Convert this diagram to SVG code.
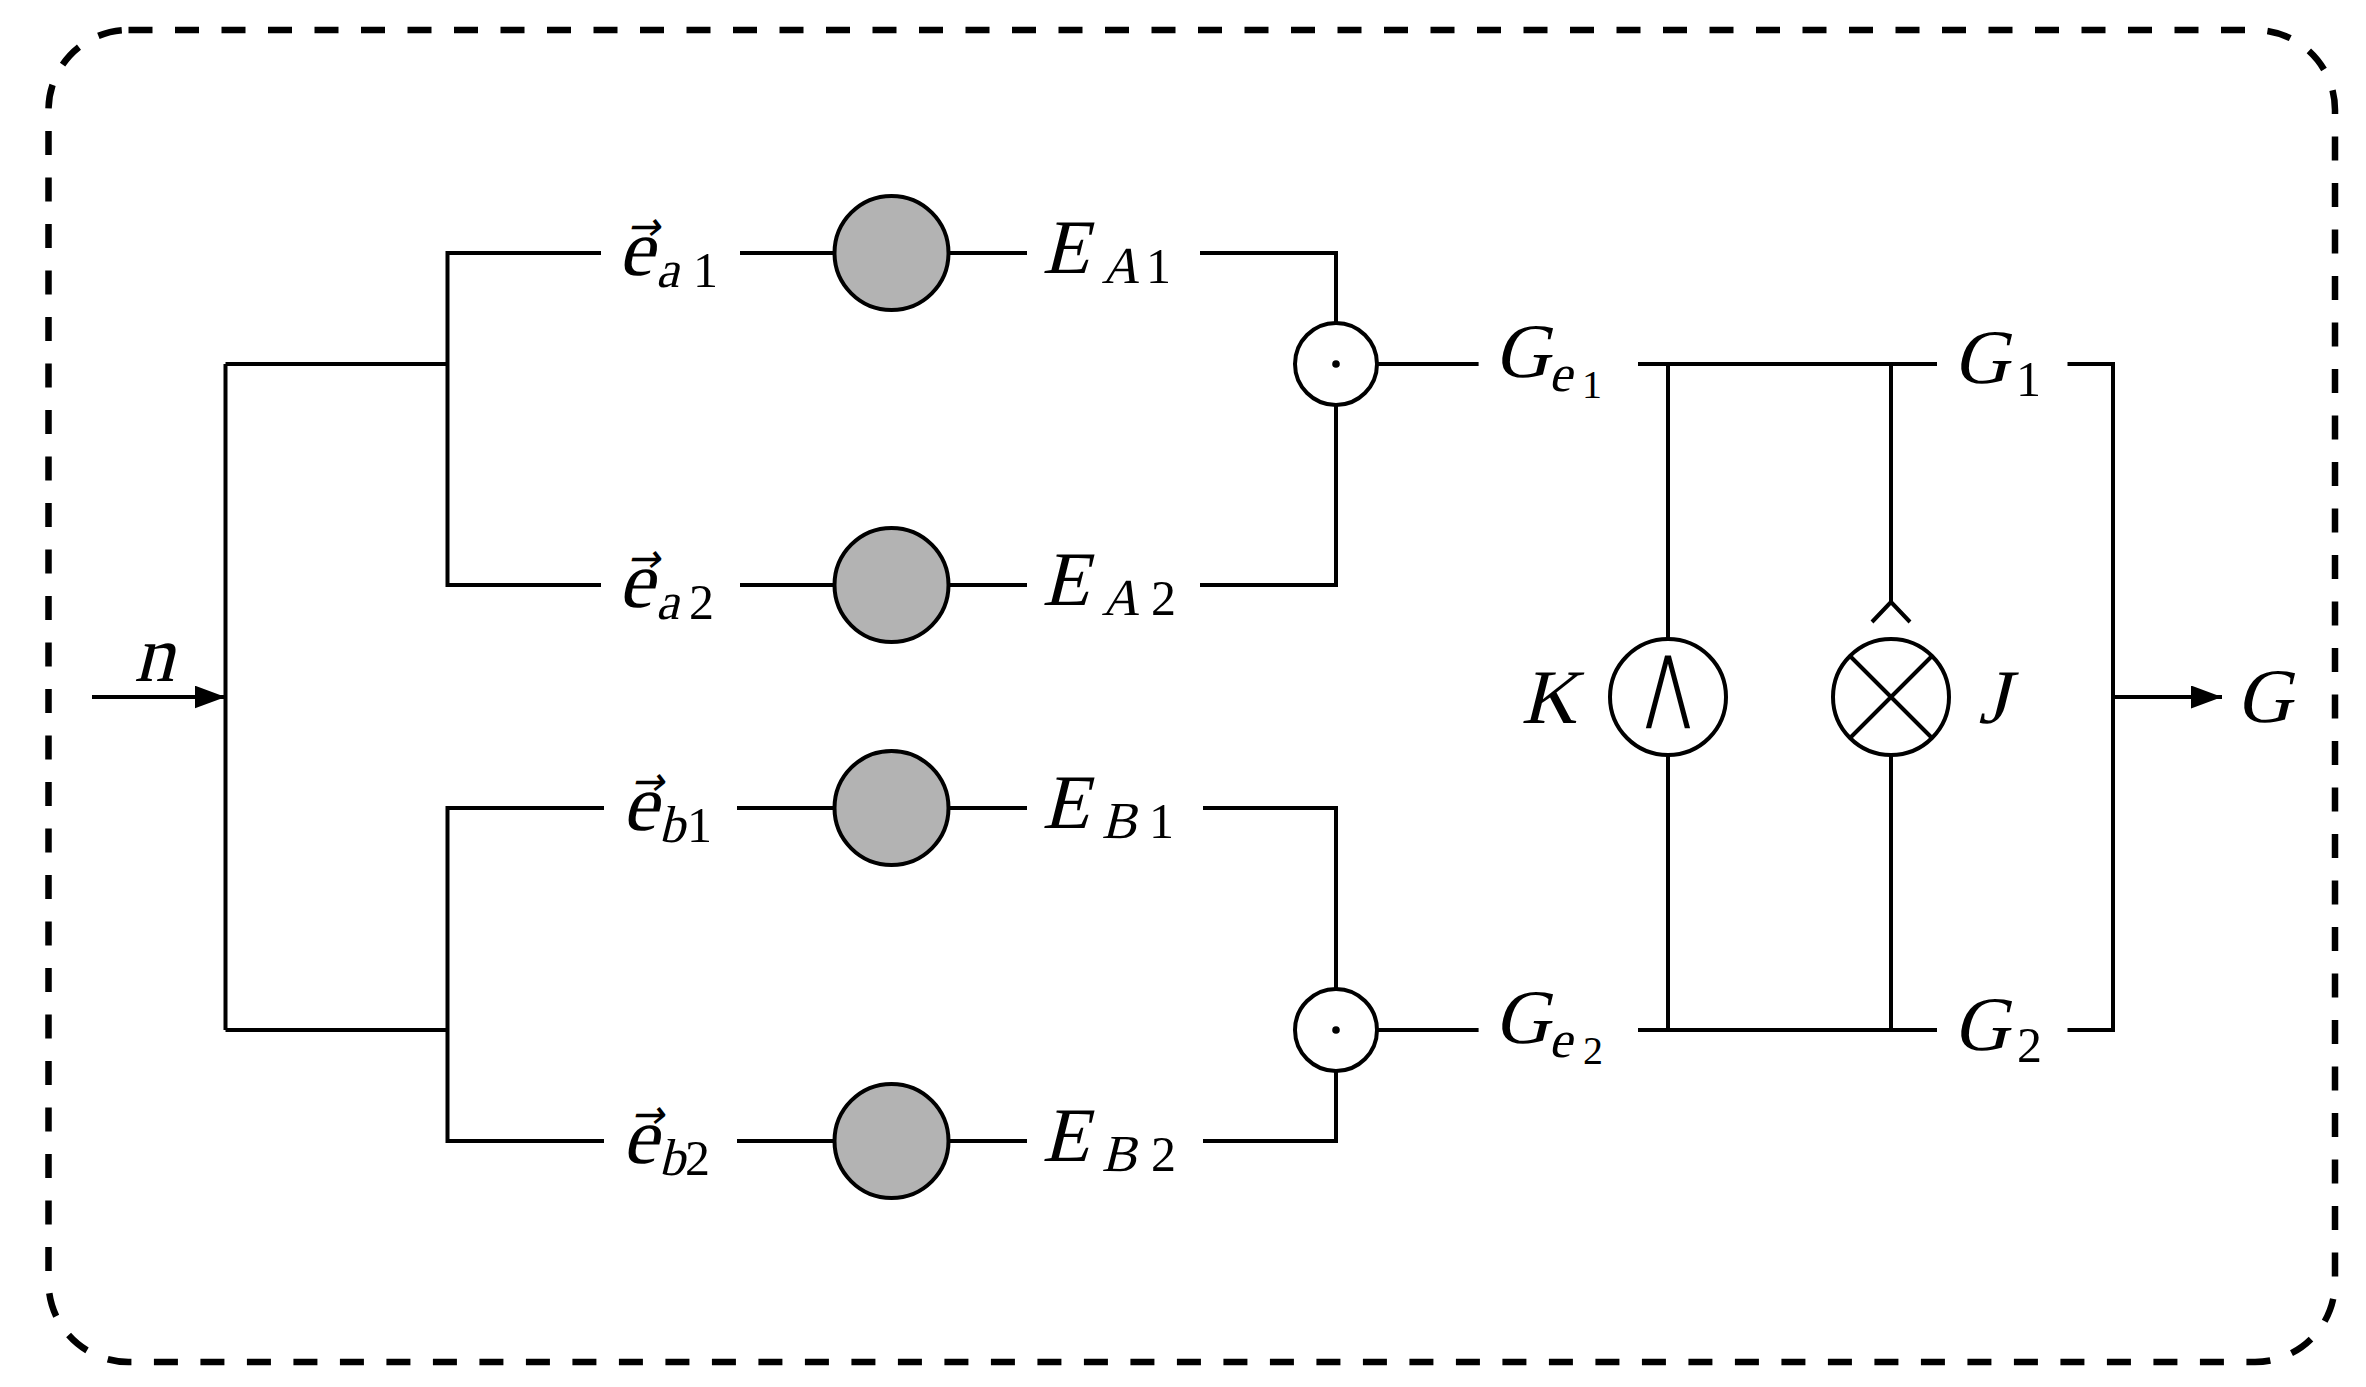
<svg xmlns="http://www.w3.org/2000/svg" width="2366" height="1387" viewBox="0 0 2366 1387">
<style>
.ln{stroke:#000;stroke-width:4;fill:none}
.nd{stroke:#000;stroke-width:4;fill:#fff}
.gr{stroke:#000;stroke-width:4;fill:#b3b3b3}
text{font-family:'Liberation Serif',serif;font-style:normal;fill:#000}
.m{font-size:77px}
.lc{font-size:80px}
.s{font-size:52px}
.d{font-size:50px}
.dd{font-size:40px}
.vec{font-family:'DejaVu Sans',sans-serif;font-size:40px}
.op{font-family:'DejaVu Sans',sans-serif;font-size:80px}
</style>
<defs>
<marker id="ah" markerWidth="31" markerHeight="23" refX="31" refY="11.5" orient="auto" markerUnits="userSpaceOnUse">
<path d="M0,0 L31,11.5 L0,23 Z" fill="#000"/>
</marker>
</defs>
<rect x="48.5" y="30" width="2286.5" height="1332" rx="80" ry="80" fill="none" stroke="#000" stroke-width="6.5" stroke-dasharray="24 22.5"/>
<g id="connectors" class="ln">
<path d="M92,697 H225.5" marker-end="url(#ah)"/>
<path d="M225.5,364 V1030"/>
<path d="M225.5,364 H447.5"/>
<path d="M225.5,1030 H447.5"/>
<path d="M601,253 H447.5 V585 H601"/>
<path d="M604,808 H447.5 V1141 H604"/>
<path d="M740,253 H834.5 M948.5,253 H1027"/>
<path d="M740,585 H834.5 M948.5,585 H1027"/>
<path d="M737,808 H834.5 M948.5,808 H1027"/>
<path d="M737,1141 H834.5 M948.5,1141 H1027"/>
<path d="M1200,253 H1336 V323"/>
<path d="M1200,585 H1336 V405"/>
<path d="M1203,808 H1336 V989"/>
<path d="M1203,1141 H1336 V1071"/>
<path d="M1377,364 H1478.6"/>
<path d="M1377,1030 H1478.6"/>
<path d="M1638,364 H1937"/>
<path d="M1638,1030 H1937"/>
<path d="M1668,364 V638"/>
<path d="M1668,756 V1030"/>
<path d="M1891,364 V602"/>
<path d="M1872,622 L1891,602 L1910,622"/>
<path d="M1891,756 V1030"/>
<path d="M2067.5,364 H2113 V1030 H2067.5"/>
<path d="M2113,697 H2222" marker-end="url(#ah)"/>
</g>
<g id="label-n"><text class="lc" transform="translate(134,681) skewX(-14)">n</text></g>
<g id="node-ea1"><text transform="translate(618,274.5) skewX(-14)"><tspan class="lc" x="0" y="0">e</tspan><tspan class="vec" x="0" y="-34.5">→</tspan><tspan class="s" x="41" y="12.5">a</tspan></text><text class="d" x="693" y="287">1</text></g>
<g id="node-ea2"><text transform="translate(618,606.5) skewX(-14)"><tspan class="lc" x="0" y="0">e</tspan><tspan class="vec" x="0" y="-34.5">→</tspan><tspan class="s" x="41" y="12.5">a</tspan></text><text class="d" x="689" y="619">2</text></g>
<g id="node-eb1"><text transform="translate(622,829.5) skewX(-14)"><tspan class="lc" x="0" y="0">e</tspan><tspan class="vec" x="0" y="-34.5">→</tspan><tspan class="s" x="40" y="12.5">b</tspan></text><text class="d" x="687" y="842">1</text></g>
<g id="node-eb2"><text transform="translate(622,1162.5) skewX(-14)"><tspan class="lc" x="0" y="0">e</tspan><tspan class="vec" x="0" y="-34.5">→</tspan><tspan class="s" x="40" y="12.5">b</tspan></text><text class="d" x="685" y="1175">2</text></g>
<g id="node-ca1"><circle class="gr" cx="891.5" cy="253" r="57"/></g>
<g id="node-ca2"><circle class="gr" cx="891.5" cy="585" r="57"/></g>
<g id="node-cb1"><circle class="gr" cx="891.5" cy="808" r="57"/></g>
<g id="node-cb2"><circle class="gr" cx="891.5" cy="1141" r="57"/></g>
<g id="node-EA1"><text transform="translate(1042,273) skewX(-14)"><tspan class="m" x="0" y="0">E</tspan><tspan class="s" x="62" y="10">A</tspan></text><text class="d" x="1146" y="283">1</text></g>
<g id="node-EA2"><text transform="translate(1042,605) skewX(-14)"><tspan class="m" x="0" y="0">E</tspan><tspan class="s" x="62" y="10">A</tspan></text><text class="d" x="1151" y="615">2</text></g>
<g id="node-EB1"><text transform="translate(1042,828) skewX(-14)"><tspan class="m" x="0" y="0">E</tspan><tspan class="s" x="62" y="10">B</tspan></text><text class="d" x="1149" y="838">1</text></g>
<g id="node-EB2"><text transform="translate(1042,1161) skewX(-14)"><tspan class="m" x="0" y="0">E</tspan><tspan class="s" x="62" y="10">B</tspan></text><text class="d" x="1151" y="1171">2</text></g>
<g id="node-odot1"><circle class="nd" cx="1336" cy="364" r="41"/><circle cx="1336" cy="364" r="3.8" fill="#000"/></g>
<g id="node-odot2"><circle class="nd" cx="1336" cy="1030" r="41"/><circle cx="1336" cy="1030" r="3.8" fill="#000"/></g>
<g id="node-Ge1"><text transform="translate(1494,377) skewX(-14)"><tspan class="m" x="0" y="0">G</tspan><tspan class="s" x="58" y="14">e</tspan></text><text class="dd" x="1582" y="398">1</text></g>
<g id="node-Ge2"><text transform="translate(1494,1043) skewX(-14)"><tspan class="m" x="0" y="0">G</tspan><tspan class="s" x="58" y="14">e</tspan></text><text class="dd" x="1583" y="1064">2</text></g>
<g id="node-K"><circle class="nd" cx="1668" cy="697" r="58"/><text class="op" text-anchor="middle" transform="translate(1668,713) scale(0.67,1)">⋀</text><text class="m" transform="translate(1521,723) skewX(-14)">K</text></g>
<g id="node-J"><circle class="nd" cx="1891" cy="697" r="58"/><path class="ln" d="M1850,656 L1932,738 M1932,656 L1850,738"/><text class="m" transform="translate(1978,723) skewX(-14)">J</text></g>
<g id="node-G1"><text class="m" transform="translate(1953,383) skewX(-14)">G</text><text class="d" x="2016" y="396">1</text></g>
<g id="node-G2"><text class="m" transform="translate(1953,1050) skewX(-14)">G</text><text class="d" x="2017" y="1062">2</text></g>
<g id="node-G"><text class="m" transform="translate(2236,722) skewX(-14)">G</text></g>
</svg>
